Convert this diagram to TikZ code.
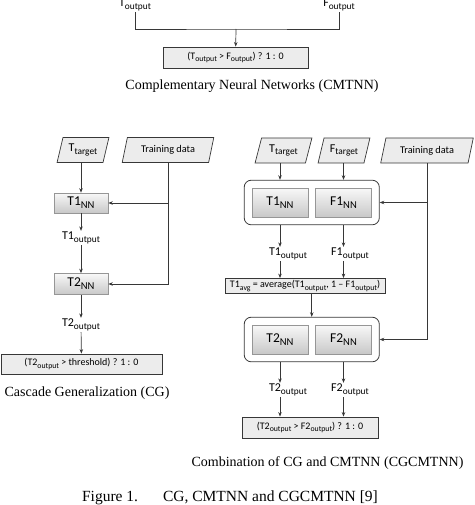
\documentclass[tikz,border=0pt]{standalone}
\usepackage{fontspec}
\usepackage{graphicx}
\setmainfont{Liberation Serif}
\newfontfamily\calibri{Carlito}
\usetikzlibrary{shapes.geometric, arrows.meta, positioning, calc, fit}
\definecolor{BoxGray}{RGB}{236, 236, 236}
\definecolor{LineGray}{RGB}{55, 55, 55}
\definecolor{BtnTop}{RGB}{248, 248, 248}
\definecolor{BtnBottom}{RGB}{200, 200, 200}
\definecolor{BtnEdge}{RGB}{150, 150, 150}

\newcommand{\subtx}[1]{\raisebox{-0.45ex}{\scalebox{0.78}{#1}}}

\tikzset{
  iobox/.style={trapezium, trapezium left angle=72, trapezium right angle=108, trapezium stretches=true,
    draw=LineGray, fill=BoxGray, line width=0.7pt, minimum height=25pt, inner sep=1pt,
    font=\calibri\fontsize{12}{14}\selectfont},
  tdfont/.style={font=\calibri\fontsize{10.3}{12}\selectfont},
  nnbox/.style={draw=BtnEdge, top color=BtnTop, bottom color=BtnBottom, line width=0.6pt,
    minimum width=56pt, inner sep=1pt, font=\calibri\fontsize{13.5}{15}\selectfont},
  resbox/.style={draw=LineGray, fill=BoxGray, line width=0.8pt, inner sep=1pt,
    font=\calibri\fontsize{10}{12}\selectfont},
  grpbox/.style={draw=LineGray, rounded corners=7pt, line width=0.8pt, inner sep=7.5pt},
  outlbl/.style={inner sep=1pt, font=\calibri\fontsize{12}{14}\selectfont},
  capt/.style={inner sep=0pt, font=\fontsize{14}{16}\selectfont},
  flow/.style={->, line width=0.7pt, LineGray},
  link/.style={line width=0.7pt, LineGray},
}

\begin{document}
\begin{tikzpicture}[x=1pt, y=-1pt, >={Stealth[length=4.5pt, width=3.5pt]}]
        \useasboundingbox (0,0) rectangle (474,505);
        % CMTNN (top)
        \node[outlbl, anchor=base] (tout) at (135,7) {T\subtx{output}};
        \node[outlbl, anchor=base] (fout) at (339,7) {F\subtx{output}};
        \coordinate (cmjoin) at (236,29);
        \node[resbox, minimum width=145pt, minimum height=21pt] (cmres) at (235.5,57.5) {(T\subtx{output} > F\subtx{output}) ? 1 : 0};
        \node[capt] (cmcap) at (252,86) {Complementary Neural Networks (CMTNN)};
        \draw[link] (tout.south) |- (cmjoin) -| (fout.south);
        \draw[flow] (cmjoin) -- (cmres);

        % CG (left)
        \node[iobox, minimum width=52pt] (cgtt) at (83,150) {T\subtx{target}};
        \node[iobox, tdfont, minimum width=92pt] (cgtd) at (168,150) {Training data};
        \node[nnbox, minimum width=54pt, minimum height=20pt] (cgt1) at (81,203) {T1\subtx{NN}};
        \node[outlbl] (cgt1o) at (81,238) {T1\subtx{output}};
        \node[nnbox, minimum width=54pt, minimum height=21pt] (cgt2) at (81,284) {T2\subtx{NN}};
        \node[outlbl] (cgt2o) at (81,325) {T2\subtx{output}};
        \node[resbox, minimum width=161pt, minimum height=20pt] (cgres) at (81.5,364) {(T2\subtx{output} > threshold) ? 1 : 0};
        \node[capt] (cgcap) at (87,393) {Cascade Generalization (CG)};
        \draw[flow] (cgtt.south -| cgt1) -- (cgt1);
        \draw[flow] (cgt1) -- (cgt1o);
        \draw[flow] (cgt1o) -- (cgt2);
        \draw[flow] (cgt2) -- (cgt2o);
        \draw[flow] (cgt2o) -- (cgres);
        \draw[flow] (cgtd.south) |- (cgt2.east);
        \draw[flow] (cgtd.south |- cgt1.east) -- (cgt1.east);

        % CGCMTNN (right)
        \node[iobox, minimum width=57pt] (rtt) at (283.5,150.5) {T\subtx{target}};
        \node[iobox, minimum width=52pt] (rft) at (344,150.5) {F\subtx{target}};
        \node[iobox, tdfont, minimum width=93pt] (rtd) at (427,150.5) {Training data};
        \node[nnbox, minimum height=29pt] (rt1) at (280,202.5) {T1\subtx{NN}};
        \node[nnbox, minimum height=29pt] (rf1) at (343.5,202.5) {F1\subtx{NN}};
        \node[grpbox, fit=(rt1)(rf1)] (grp1) {};
        \node[outlbl] (rt1o) at (288,254) {T1\subtx{output}};
        \node[outlbl] (rf1o) at (350,254) {F1\subtx{output}};
        \node[resbox, minimum width=160pt, minimum height=15pt] (ravg) at (305,286) {T1\subtx{avg} = average(T1\subtx{output}, 1 – F1\subtx{output})};
        \node[nnbox, minimum height=29pt] (rt2) at (280,339.5) {T2\subtx{NN}};
        \node[nnbox, minimum height=29pt] (rf2) at (343.5,339.5) {F2\subtx{NN}};
        \node[grpbox, fit=(rt2)(rf2)] (grp2) {};
        \node[outlbl] (rt2o) at (288,390) {T2\subtx{output}};
        \node[outlbl] (rf2o) at (350,390) {F2\subtx{output}};
        \node[resbox, minimum width=136pt, minimum height=21pt] (rres) at (310,427.5) {(T2\subtx{output} > F2\subtx{output}) ? 1 : 0};
        \node[capt] (rcap) at (327.5,463) {Combination of CG and CMTNN (CGCMTNN)};
        \draw[flow] (rtt.south -| rt1) -- (grp1.north -| rt1);
        \draw[flow] (rft.south -| rf1) -- (grp1.north -| rf1);
        \draw[flow] (rtd.south) |- (grp2.east);
        \draw[flow] (rtd.south |- grp1.east) -- (grp1.east);
        \draw[flow] (grp1.south -| rt1) -- (rt1o.north -| rt1);
        \draw[flow] (grp1.south -| rf1) -- (rf1o.north -| rf1);
        \draw[flow] (rt1o.south -| rt1) -- (ravg.north -| rt1);
        \draw[flow] (rf1o.south -| rf1) -- (ravg.north -| rf1);
        \draw[flow] (ravg.south -| grp2) -- (grp2.north);
        \draw[flow] (grp2.south -| rt2) -- (rt2o.north -| rt2);
        \draw[flow] (grp2.south -| rf2) -- (rf2o.north -| rf2);
        \draw[flow] (rt2o.south -| rt2) -- (rres.north -| rt2);
        \draw[flow] (rf2o.south -| rf2) -- (rres.north -| rf2);

        % figure caption
        \node[capt, font=\fontsize{15.5}{18}\selectfont] (figcap) at (230,498) {Figure 1.\hspace{25pt}CG, CMTNN and CGCMTNN [9]};
\end{tikzpicture}
\end{document}
